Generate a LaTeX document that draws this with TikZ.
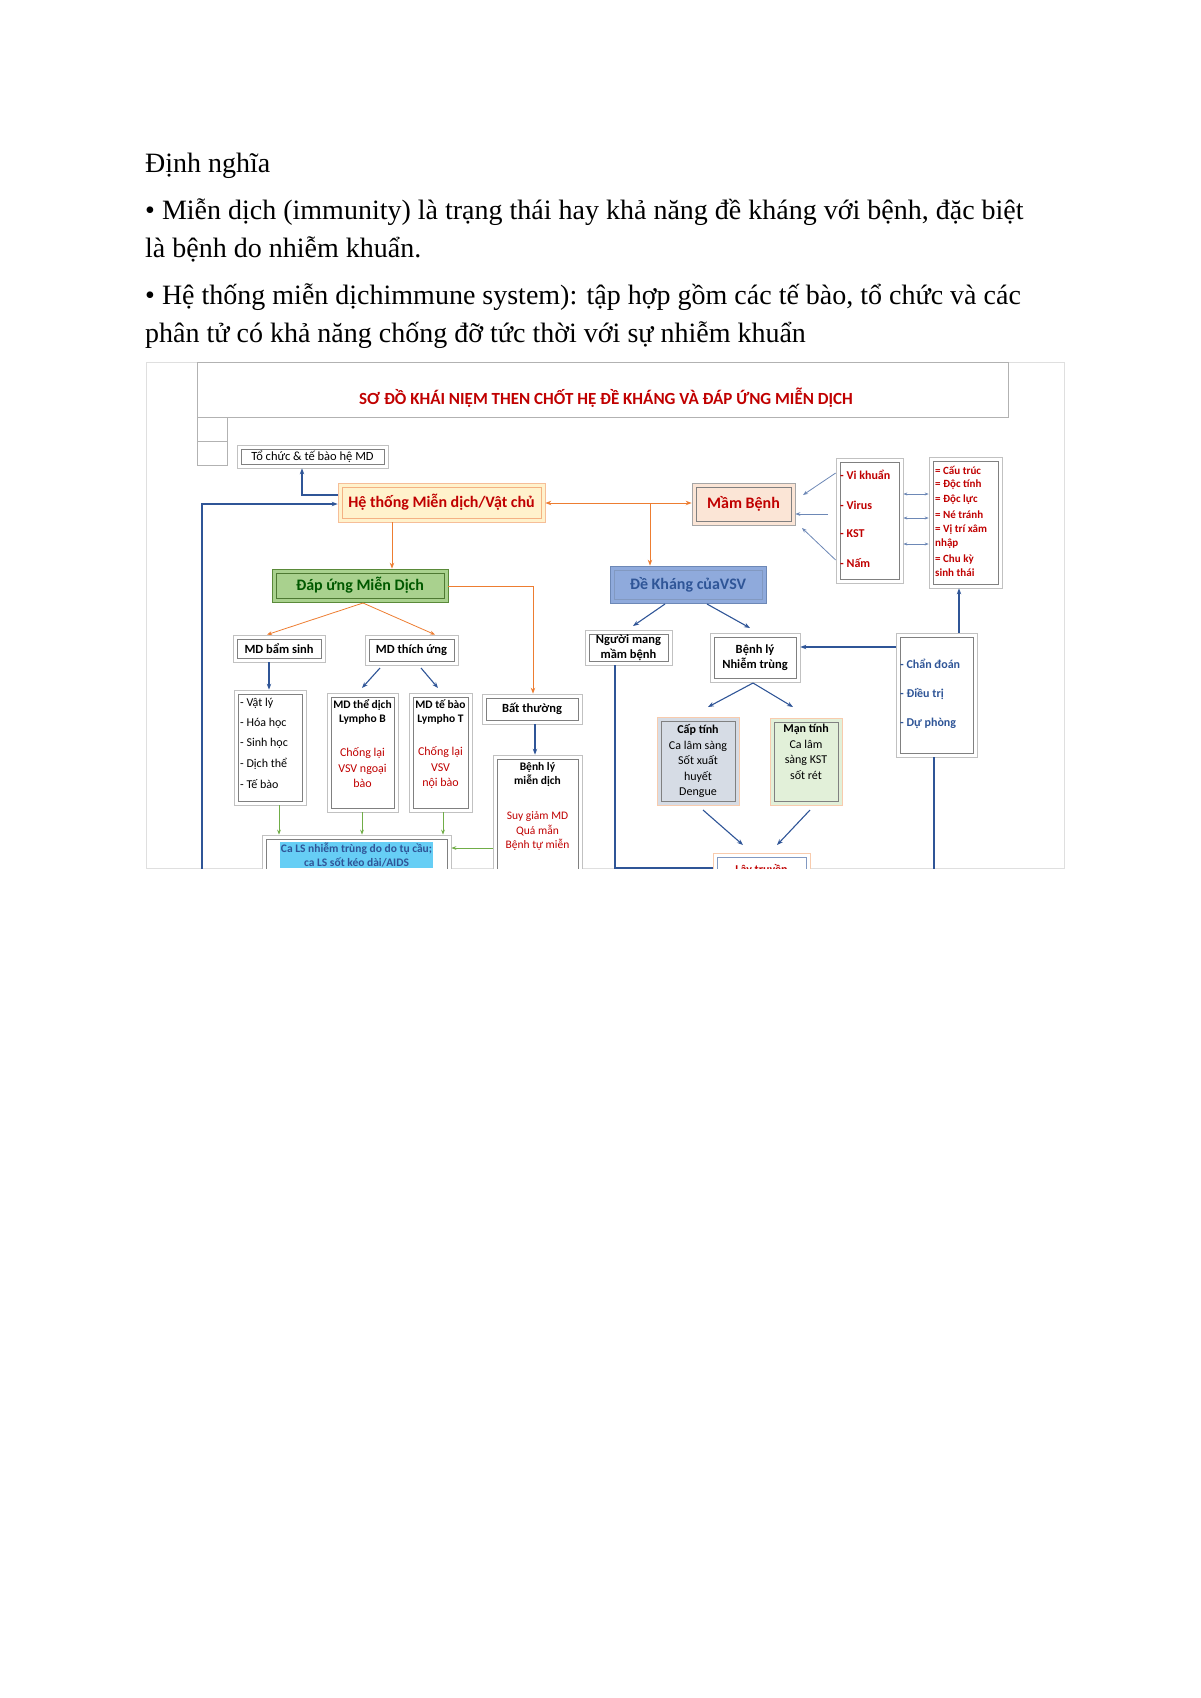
\documentclass[tikz,border=0pt]{standalone}
\usepackage{fontspec}
\setmainfont{Liberation Serif}
\newfontfamily\dsans{Carlito}
\usetikzlibrary{arrows.meta}
\definecolor{orA}{HTML}{ED7D31}
\definecolor{blA}{HTML}{2F5597}
\definecolor{grA}{HTML}{70AD47}
\definecolor{rdA}{HTML}{C00000}
\definecolor{gyA}{HTML}{A6A6A6}
\definecolor{ylF}{HTML}{FFF2CC}
\definecolor{grF}{HTML}{A9D18E}
\definecolor{blF}{HTML}{8FAADC}
\definecolor{slF}{HTML}{FBE5D6}
\definecolor{cpF}{HTML}{D6DCE5}
\definecolor{mnF}{HTML}{E2F0D9}
\newcommand\bx[8]{\node[bxs,#6,minimum width={(#4-#2)*1pt},minimum height={(#5-#3)*1pt}] (#1) at ({(#2+#4)/2},{(#3+#5)/2}) {};
\draw[#7,line width=0.7pt] ({#2+4},{#3+4}) rectangle ({#4-4},{#5-4});
\node[bxt,#6,draw=none,fill=none] (#1-t) at (#1) {#8};}
\tikzset{
 bxs/.style={draw=gyA!70,line width=0.7pt,fill=white,inner sep=1pt},
 bxt/.style={inner sep=0pt,align=center,font=\dsans\bfseries\fontsize{12.5}{15}\selectfont},
 big/.style={font=\dsans\bfseries\fontsize{16}{18}\selectfont},
 body/.style={anchor=base west,inner sep=0,font=\fontsize{28}{34}\selectfont},
 li/.style={anchor=west,inner sep=0,font=\dsans\bfseries\fontsize{12}{14}\selectfont},
 oar/.style={draw=orA,line width=1pt,-{Stealth[length=6pt]}},
 bar/.style={draw=blA,line width=1.1pt,-{Stealth[length=6pt]}},
 gar/.style={draw=grA,line width=0.8pt,-{Stealth[length=5pt]}},
 bln/.style={draw=blA,line width=1.1pt},
}
\begin{document}
\begin{tikzpicture}[x=1pt,y=-1pt]
\useasboundingbox (0,0) rectangle (1200,1698);
% body text
\node[body] (t0) at (145,172) {Định nghĩa};
\node[body] (t1) at (145,219) {• Miễn dịch (immunity) là trạng thái hay khả năng đề kháng với bệnh, đặc biệt};
\node[body] (t2) at (145,257) {là bệnh do nhiễm khuẩn.};
\node[body] (t3) at (145,304) {• Hệ thống miễn dịchimmune system): tập hợp gồm các tế bào, tổ chức và các};
\node[body] (t4) at (145,342) {phân tử có khả năng chống đỡ tức thời với sự nhiễm khuẩn};
% image frame
\draw[gray!25] (146,362) rectangle (1064,868);
\begin{scope}
\clip (146,362) rectangle (1064,868);
% title frame
\draw[gray!60] (197,362) -- (197,465);
\draw[gray!60] (197,362) -- (1008,362) -- (1008,417) -- (197,417);
\draw[gray!60] (197,417) rectangle (227,441) (197,441) rectangle (227,465);
\node[font=\dsans\bfseries\fontsize{17}{19}\selectfont,text=rdA] (title) at (606,398) {SƠ ĐỒ KHÁI NIỆM THEN CHỐT HỆ ĐỀ KHÁNG VÀ ĐÁP ỨNG MIỄN DỊCH};
% left column
\bx{toc}{237}{445}{388}{468}{}{gray}{\fontseries{m}\selectfont Tổ chức \& tế bào hệ MD}
\bx{ht}{338}{483}{545}{522}{draw=orA!50,fill=ylF,text=rdA,big}{orA!60}{Hệ thống Miễn dịch/Vật chủ}
\bx{du}{272}{569}{448}{602}{draw=grA!80!black,fill=grF,text=green!35!black,big}{grA!70!black}{Đáp ứng Miễn Dịch}
\bx{bs}{233}{635}{325}{662}{}{gray}{MD bẩm sinh}
\bx{tu}{365}{635}{458}{665}{}{gray}{MD thích ứng}
\bx{lst}{234}{690}{306}{805}{}{gray}{}
\node[li,font=\dsans\fontsize{12}{14}\selectfont] (l1) at (240,703) {- Vật lý};
\node[li,font=\dsans\fontsize{12}{14}\selectfont] (l2) at (240,723) {- Hóa học};
\node[li,font=\dsans\fontsize{12}{14}\selectfont] (l3) at (240,743) {- Sinh học};
\node[li,font=\dsans\fontsize{12}{14}\selectfont] (l4) at (240,764) {- Dịch thể};
\node[li,font=\dsans\fontsize{12}{14}\selectfont] (l5) at (240,784) {- Tế bào};
\bx{td}{327}{693}{398}{812}{}{gray}{}
\node[font=\dsans\bfseries\fontsize{11.5}{14}\selectfont,align=center,inner sep=0] (tdA) at (362.5,712) {MD thể dịch\\Lympho B};
\node[font=\dsans\fontsize{12}{15.5}\selectfont,align=center,text=rdA,inner sep=0] (tdB) at (362.5,768) {Chống lại\\VSV ngoại\\bào};
\bx{tb}{409}{693}{472}{812}{}{gray}{}
\node[font=\dsans\bfseries\fontsize{11.5}{14}\selectfont,align=center,inner sep=0] (tbA) at (440.5,712) {MD tế bào\\Lympho T};
\node[font=\dsans\fontsize{12}{15.5}\selectfont,align=center,text=rdA,inner sep=0] (tbB) at (440.5,768) {Chống lại\\VSV\\nội bào};
\bx{bt}{482}{694}{582}{724}{}{gray}{Bất thường}
\bx{blm}{493}{755}{582}{880}{}{gray}{}
\node[font=\dsans\bfseries\fontsize{11.5}{14}\selectfont,align=center,inner sep=0] (blmA) at (537.5,774) {Bệnh lý\\miễn dịch};
\node[font=\dsans\fontsize{11.5}{14.5}\selectfont,align=center,text=rdA,inner sep=0] (blmB) at (537.5,831) {Suy giảm MD\\Quá mẫn\\Bệnh tự miễn};
\bx{ca}{262}{835}{451}{880}{}{gray}{}
\node[font=\dsans\bfseries\fontsize{11.5}{14.5}\selectfont,align=center,fill=cyan!60,inner sep=1pt,text=blA] (caT) at (356.5,855) {Ca LS nhiễm trùng do do tụ cầu;\\ca LS sốt kéo dài/AIDS};
% right column
\bx{mb}{692}{483}{795}{525}{draw=gyA,fill=slF,text=rdA,big}{gray}{Mầm Bệnh}
\bx{dk}{610}{566}{766}{603}{draw=blA!70,fill=blF,text=blA,big}{blA!60}{Đề Kháng củaVSV}
\bx{nm}{585}{630}{672}{665}{}{gray}{Người mang\\mầm bệnh}
\bx{bn}{710}{633}{800}{682}{}{gray}{Bệnh lý\\Nhiễm trùng}
\bx{ct}{657}{717}{739}{805}{draw=orA!40,fill=cpF,font=\dsans\fontsize{12}{15.5}\selectfont}{gray}{\textbf{Cấp tính}\\Ca lâm sàng\\Sốt xuất\\huyết\\Dengue}
\bx{mt}{770}{718}{842}{805}{draw=orA!40,fill=mnF,font=\dsans\fontsize{12}{15.5}\selectfont}{gray}{}
\node[font=\dsans\fontsize{12}{15.5}\selectfont,align=center,inner sep=0] (mtT) at (806,752) {\textbf{Mạn tính}\\Ca lâm\\sàng KST\\sốt rét};
\bx{lt}{713}{853}{810}{890}{draw=orA!40,text=rdA}{blA!60}{}
\node[font=\dsans\bfseries\fontsize{12}{14}\selectfont,text=rdA] (ltT) at (761.5,870) {Lây truyền};
\bx{cd}{896}{633}{977}{757}{}{gray}{}
\node[li,text=blA] (cd1) at (900,664) {- Chẩn đoán};
\node[li,text=blA] (cd2) at (900,694) {- Điều trị};
\node[li,text=blA] (cd3) at (900,723) {- Dự phòng};
\bx{pg}{836}{458}{903}{583}{}{gray}{}
\node[li,text=rdA] (p1) at (840,475) {- Vi khuẩn};
\node[li,text=rdA] (p2) at (840,505) {- Virus};
\node[li,text=rdA] (p3) at (840,534) {- KST};
\node[li,text=rdA] (p4) at (840,563) {- Nấm};
\bx{pr}{929}{457}{1002}{588}{}{gray}{}
\foreach \yy/\tx [count=\i] in {470/= Cấu trúc,485/= Độc tính,500/= Độc lực,515/= Né tránh,530/= Vị trí xâm,544/nhập,559/= Chu kỳ,573/sinh thái}
 \node[li,text=rdA,font=\dsans\bfseries\fontsize{11}{12}\selectfont] (q\i) at (935,\yy) {\tx};
% connectors left
\draw[bar] (ht.west |- 0,495) -| (toc.south -| 302,0);
\draw[bar] (202,880) -- (202,504) -- (ht.west |- 0,504);
\draw[oar] (ht.south -| 392,0) -- (du.north -| 392,0);
\draw[oar] (du.east |- 0,586) -| (bt.north -| 533,0);
\draw[orA,line width=0.8pt,-{Stealth[length=5pt]}] (363,603) -- (bs.north -| 267,0);
\draw[orA,line width=0.8pt,-{Stealth[length=5pt]}] (363,603) -- (tu.north -| 435,0);
\draw[bar] (bs.south -| 269,0) -- (lst.north -| 269,0);
\draw[bar] (380,668) -- (362,688);
\draw[bar] (421,668) -- (438,688);
\draw[bar] (bt.south -| 535,0) -- (blm.north -| 535,0);
\draw[gar] (lst.south -| 279,0) -- (ca.north -| 279,0);
\draw[gar] (td.south -| 362,0) -- (ca.north -| 362,0);
\draw[gar] (tb.south -| 443,0) -- (ca.north -| 443,0);
\draw[gar] (blm.west |- 0,848) -- (ca.east |- 0,848);
% connectors right
\draw[orA,line width=1pt,{Stealth[length=6pt]}-{Stealth[length=6pt]}] (ht.east |- 0,503) -- (mb.west |- 0,503);
\draw[oar] (650,503) -- (dk.north -| 650,0);
\draw[bar] (665,604) -- (633,626);
\draw[bar] (707,604) -- (750,628);
\draw[bar] (753,683) -- (708,707);
\draw[bar] (753,683) -- (793,707);
\draw[bar] (703,810) -- (743,845);
\draw[bar] (810,810) -- (777,845);
\draw[bln] (nm.south -| 615,0) -- (615,868) -- (lt.west |- 0,868);
\draw[bar] (cd.west |- 0,647) -- (bn.east |- 0,647);
\draw[bln] (cd.south -| 934,0) -- (934,880);
\draw[bar] (cd.north -| 959,0) -- (pr.south -| 959,0);
\draw[blA!70,line width=0.8pt,-{Stealth[length=5pt]}] (pg.west |- 0,473) -- (803,495);
\draw[blA!70,line width=0.8pt,-{Stealth[length=5pt]}] (828,514) -- (mb.east |- 0,514);
\draw[blA!70,line width=0.8pt,-{Stealth[length=5pt]}] (pg.west |- 0,560) -- (802,528);
\foreach \yy in {494,518,544}
  \draw[blA!70,line width=0.8pt,{Stealth[length=4pt]}-{Stealth[length=4pt]}] (pg.east |- 0,\yy) -- (pr.west |- 0,\yy);
\end{scope}
\end{tikzpicture}
\end{document}
